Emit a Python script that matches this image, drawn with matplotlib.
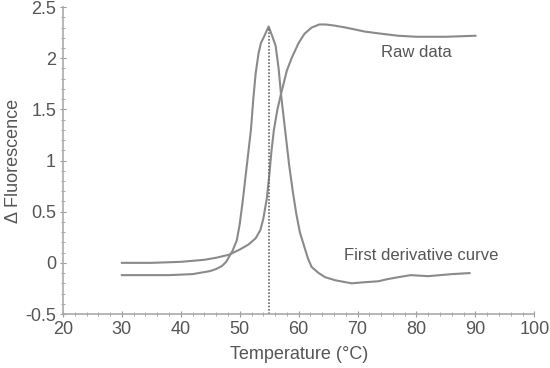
import numpy as np
import matplotlib.pyplot as plt
from matplotlib.ticker import MultipleLocator

plt.rcParams['font.family'] = ['Liberation Sans', 'DejaVu Sans']

# === Data ===
raw_temp = [30, 35, 40, 44, 46, 48.2, 50, 51.5, 52.7, 53.5, 54, 54.6, 55, 55.4, 55.8, 56.4, 57, 58,
            58.8, 60, 61, 62.2, 63.5, 64.6, 66, 68, 71.3, 74, 76.9, 80, 85, 90]
raw_fluor = [0.0, 0.0, 0.01, 0.03, 0.05, 0.08, 0.13, 0.18, 0.24, 0.32, 0.43, 0.63, 0.85, 1.1, 1.3, 1.5, 1.65, 1.88,
             2.0, 2.15, 2.24, 2.3, 2.33, 2.33, 2.32, 2.3, 2.26, 2.24, 2.22, 2.21, 2.21, 2.22]

deriv_temp = [30, 35, 38, 42, 45, 46, 47, 47.7, 48.2, 48.8, 49.5, 50, 50.5, 51, 51.5, 51.9, 52.3, 52.7,
              53.2, 53.6, 54.2, 54.9, 55.5, 56.1, 56.6, 57, 57.8, 58.4, 59, 59.6, 60.2, 61, 61.6, 62.2,
              63.4, 64.5, 66.2, 69, 71, 73.5, 75, 76.9, 79, 82, 84, 86, 89]
deriv_fluor = [-0.12, -0.12, -0.12, -0.11, -0.08, -0.06, -0.03, 0.01, 0.06, 0.12, 0.22, 0.38, 0.6, 0.85, 1.1, 1.3, 1.6, 1.85,
               2.05, 2.15, 2.22, 2.31, 2.22, 2.12, 1.9, 1.65, 1.25, 0.95, 0.7, 0.48, 0.3, 0.15, 0.04, -0.04,
               -0.1, -0.14, -0.17, -0.2, -0.19, -0.18, -0.16, -0.14, -0.12, -0.13, -0.12, -0.11, -0.1]

tm = 55
tm_peak = 2.31

fig = plt.figure(figsize=(5.5, 3.68), dpi=100)
ax = fig.add_axes([0.1145, 0.1467, 0.857, 0.834])

line_col = '#8a8a8a'
text_col = '#555555'

ax.plot(raw_temp, raw_fluor, color=line_col, lw=1.5)
ax.plot(deriv_temp, deriv_fluor, color=line_col, lw=1.5)
ax.plot([tm, tm], [-0.5, tm_peak], color='#666666', lw=1.2, ls=(0, (1, 1)))

ax.text(80, 2.06, "Raw data", fontsize=12, color=text_col, ha='center', va='center')
ax.text(80.8, 0.07, "First derivative curve", fontsize=12, color=text_col, ha='center', va='center')

ax.set_xlim(20, 100)
ax.set_ylim(-0.5, 2.5)
ax.xaxis.set_major_locator(MultipleLocator(10))
ax.xaxis.set_minor_locator(MultipleLocator(2))
ax.yaxis.set_minor_locator(MultipleLocator(0.1))
ax.set_yticks([-0.5, 0, 0.5, 1, 1.5, 2, 2.5])
ax.set_yticklabels(['-0.5', '0', '0.5', '1', '1.5', '2', '2.5'])

for s in ['top', 'right']:
    ax.spines[s].set_visible(False)
for s in ['left', 'bottom']:
    ax.spines[s].set_color('#aaaaaa')
    ax.spines[s].set_linewidth(1.2)

ax.tick_params(which='both', direction='inout', color='#999999', labelcolor=text_col, labelsize=13)
ax.tick_params(which='major', length=4, pad=3)
ax.tick_params(which='minor', length=3)

ax.set_xlabel("Temperature (°C)", fontsize=13, color=text_col)
ax.set_ylabel("Δ Fluorescence", fontsize=13, color=text_col)
ax.xaxis.set_label_coords(0.5, -0.105)
ax.yaxis.set_label_coords(-0.087, 0.5)

plt.savefig("out.png", dpi=100, facecolor='white')
